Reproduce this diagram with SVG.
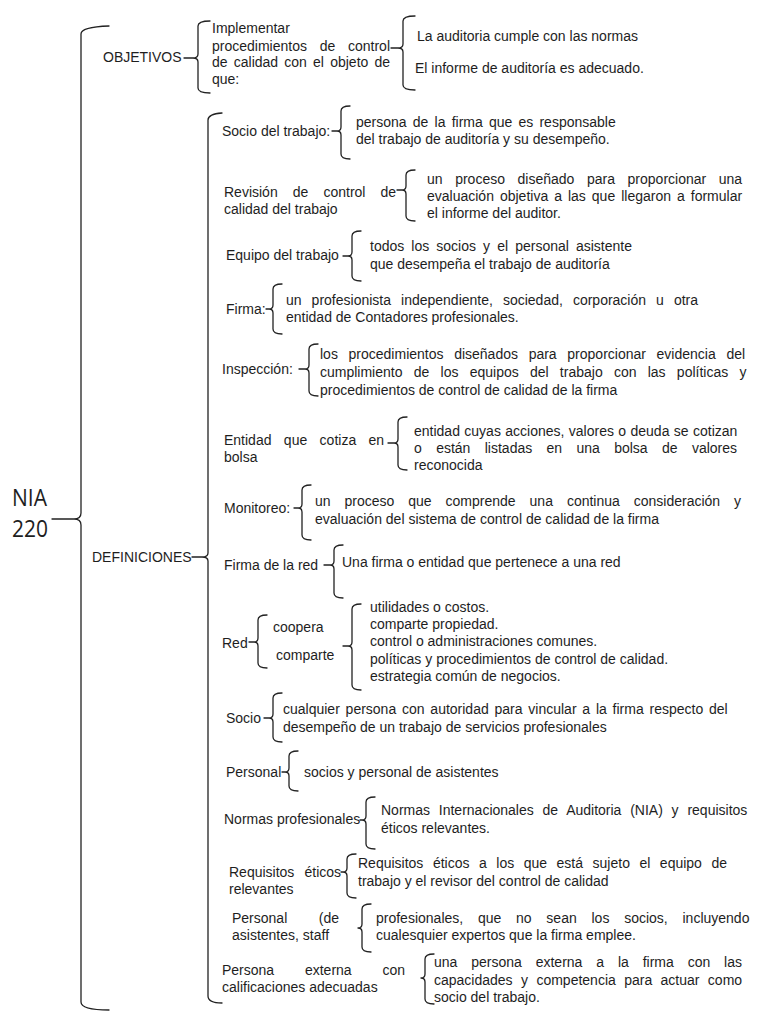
<svg xmlns="http://www.w3.org/2000/svg" width="768" height="1024" viewBox="0 0 768 1024">
<style>
.t{font-family:"Liberation Sans",Arial,sans-serif;font-size:14px;fill:#1e1e1e}
.big{font-family:"Open Sans","Noto Sans",sans-serif;font-size:24px;fill:#1e1e1e}
.b{fill:none;stroke:#222;stroke-width:1.3;stroke-linecap:round;stroke-linejoin:round}
</style>
<rect width="768" height="1024" fill="#fff"/>
<g id="connectors">
<path class="b" d="M109 26 Q81 27 81 34 L81 513 Q81 519 74 519 L52 519 M74 519 Q81 519 81 525 L81 1002 Q81 1010 109 1010"/>
<path class="b" d="M210 21 Q198 21 198 26 L198 54 Q198 58 193 58 L184 58 M193 58 Q198 58 198 62 L198 88 Q198 93 210 93"/>
<path class="b" d="M415 16 Q403 16 403 21 L403 44 Q403 48 398 48 L391 48 M398 48 Q403 48 403 52 L403 85 Q403 90 415 90"/>
<path class="b" d="M222 113 Q208 114 208 120 L208 553 Q208 557 202 557 L192 557 M202 557 Q208 557 208 561 L208 996 Q208 1003 222 1003"/>
<path class="b" d="M350 106 Q341 106 341 111 L341 127 Q341 131 337 131 L332 131 M337 131 Q341 131 341 135 L341 154 Q341 159 350 159"/>
<path class="b" d="M415 170 Q406 170 406 175 L406 186 Q406 190 402 190 L397 190 M402 190 Q406 190 406 194 L406 216 Q406 221 415 221"/>
<path class="b" d="M361 231 Q352 231 352 236 L352 252 Q352 256 348 256 L343 256 M348 256 Q352 256 352 260 L352 276 Q352 281 361 281"/>
<path class="b" d="M282 284 Q273 284 273 289 L273 305 Q273 309 269 309 L266 309 M269 309 Q273 309 273 313 L273 329 Q273 334 282 334"/>
<path class="b" d="M318 344 Q309 344 309 349 L309 365 Q309 369 305 369 L299 369 M305 369 Q309 369 309 373 L309 391 Q309 396 318 396"/>
<path class="b" d="M407 417 Q398 417 398 422 L398 439 Q398 443 394 443 L388 443 M394 443 Q398 443 398 447 L398 465 Q398 470 407 470"/>
<path class="b" d="M311 485 Q302 485 302 490 L302 504 Q302 508 298 508 L294 508 M298 508 Q302 508 302 512 L302 535 Q302 540 311 540"/>
<path class="b" d="M343 545 Q334 545 334 550 L334 561 Q334 565 330 565 L324 565 M330 565 Q334 565 334 569 L334 593 Q334 598 343 598"/>
<path class="b" d="M267 615 Q258 615 258 620 L258 638 Q258 642 254 642 L249 642 M254 642 Q258 642 258 646 L258 663 Q258 668 267 668"/>
<path class="b" d="M361 604 Q352 604 352 609 L352 642 Q352 646 348 646 L343 646 M348 646 Q352 646 352 650 L352 685 Q352 690 361 690"/>
<path class="b" d="M282 693 Q273 693 273 698 L273 714 Q273 718 269 718 L264 718 M269 718 Q273 718 273 722 L273 737 Q273 742 282 742"/>
<path class="b" d="M298 751 Q289 751 289 756 L289 768 Q289 772 285 772 L282 772 M285 772 Q289 772 289 776 L289 786 Q289 791 298 791"/>
<path class="b" d="M375 797 Q366 797 366 802 L366 816 Q366 820 362 820 L360 820 M362 820 Q366 820 366 824 L366 844 Q366 849 375 849"/>
<path class="b" d="M356 854 Q347 854 347 859 L347 868 Q347 872 343 872 L341 872 M343 872 Q347 872 347 876 L347 893 Q347 898 356 898"/>
<path class="b" d="M371 904 Q362 904 362 909 L362 924 Q362 928 358 928 M358 928 Q362 928 362 932 L362 947 Q362 952 371 952"/>
<path class="b" d="M434 954 Q425 954 425 959 L425 974 Q425 978 421 978 M421 978 Q425 978 425 982 L425 999 Q425 1004 434 1004"/>
</g>
<g id="nia220">
<text class="big" x="12" y="506" textLength="35" lengthAdjust="spacingAndGlyphs">NIA</text>
<text class="big" x="12" y="537" textLength="36" lengthAdjust="spacingAndGlyphs">220</text>
</g>
<g id="objetivos"><text class="t" x="103" y="62">OBJETIVOS</text></g>
<g id="objetivo-implementar">
<text class="t" x="212" y="33">Implementar</text>
<text class="t" x="212" y="51" word-spacing="8.85">procedimientos de control</text>
<text class="t" x="212" y="67" word-spacing="2.3">de calidad con el objeto de</text>
<text class="t" x="212" y="84">que:</text>
</g>
<g id="objetivo-normas"><text class="t" x="417" y="41">La auditoria cumple con las normas</text></g>
<g id="objetivo-informe"><text class="t" x="415" y="73">El informe de auditoría es adecuado.</text></g>
<g id="definiciones"><text class="t" x="92" y="562">DEFINICIONES</text></g>

<g id="socio-trabajo">
<text class="t" x="222" y="136">Socio del trabajo:</text>
<text class="t" x="356" y="127" word-spacing="2.3">persona de la firma que es responsable</text>
<text class="t" x="356" y="144">del trabajo de auditoría y su desempeño.</text>
</g>
<g id="revision">
<text class="t" x="224" y="197" word-spacing="11.2">Revisión de control de</text>
<text class="t" x="224" y="214">calidad del trabajo</text>
<text class="t" x="427" y="184" word-spacing="8.7">un proceso diseñado para proporcionar una</text>
<text class="t" x="427" y="201" word-spacing="2.1">evaluación objetiva a las que llegaron a formular</text>
<text class="t" x="427" y="218">el informe del auditor.</text>
</g>
<g id="equipo">
<text class="t" x="226" y="260">Equipo del trabajo</text>
<text class="t" x="370" y="251" word-spacing="3.2">todos los socios y el personal asistente</text>
<text class="t" x="370" y="269">que desempeña el trabajo de auditoría</text>
</g>
<g id="firma">
<text class="t" x="226" y="314">Firma:</text>
<text class="t" x="286" y="305" word-spacing="6.15">un profesionista independiente, sociedad, corporación u otra</text>
<text class="t" x="286" y="322">entidad de Contadores profesionales.</text>
</g>
<g id="inspeccion">
<text class="t" x="222" y="374">Inspección:</text>
<text class="t" x="320" y="359" word-spacing="6.77">los procedimientos diseñados para proporcionar evidencia del</text>
<text class="t" x="320" y="377" word-spacing="7.35">cumplimiento de los equipos del trabajo con las políticas y</text>
<text class="t" x="320" y="395">procedimientos de control de calidad de la firma</text>
</g>
<g id="entidad">
<text class="t" x="224" y="445" word-spacing="8.5">Entidad que cotiza en</text>
<text class="t" x="224" y="462">bolsa</text>
<text class="t" x="414" y="436" word-spacing="0.5">entidad cuyas acciones, valores o deuda se cotizan</text>
<text class="t" x="414" y="453" word-spacing="10.46">o están listadas en una bolsa de valores</text>
<text class="t" x="414" y="470">reconocida</text>
</g>
<g id="monitoreo">
<text class="t" x="224" y="513">Monitoreo:</text>
<text class="t" x="315" y="506" word-spacing="10.06">un proceso que comprende una continua consideración y</text>
<text class="t" x="315" y="524">evaluación del sistema de control de calidad de la firma</text>
</g>
<g id="firma-red">
<text class="t" x="224" y="570">Firma de la red</text>
<text class="t" x="342" y="567">Una firma o entidad que pertenece a una red</text>
</g>
<g id="red">
<text class="t" x="222" y="648">Red</text>
<text class="t" x="273" y="632">coopera</text>
<text class="t" x="276" y="660">comparte</text>
<text class="t" x="370" y="612">utilidades o costos.</text>
<text class="t" x="370" y="629">comparte propiedad.</text>
<text class="t" x="370" y="646">control o administraciones comunes.</text>
<text class="t" x="370" y="664">políticas y procedimientos de control de calidad.</text>
<text class="t" x="370" y="681">estrategia común de negocios.</text>
</g>
<g id="socio">
<text class="t" x="226" y="723">Socio</text>
<text class="t" x="283" y="714" word-spacing="1.9">cualquier persona con autoridad para vincular a la firma respecto del</text>
<text class="t" x="283" y="732">desempeño de un trabajo de servicios profesionales</text>
</g>
<g id="personal">
<text class="t" x="226" y="777">Personal</text>
<text class="t" x="304" y="777">socios y personal de asistentes</text>
</g>
<g id="normas">
<text class="t" x="224" y="824">Normas profesionales</text>
<text class="t" x="381" y="815" word-spacing="4.9">Normas Internacionales de Auditoria (NIA) y requisitos</text>
<text class="t" x="381" y="833">éticos relevantes.</text>
</g>
<g id="requisitos">
<text class="t" x="229" y="877" word-spacing="6.2">Requisitos éticos</text>
<text class="t" x="229" y="894">relevantes</text>
<text class="t" x="358" y="868" word-spacing="5.63">Requisitos éticos a los que está sujeto el equipo de</text>
<text class="t" x="358" y="886">trabajo y el revisor del control de calidad</text>
</g>
<g id="personal-staff">
<text class="t" x="232" y="923" word-spacing="27.6">Personal (de</text>
<text class="t" x="232" y="940">asistentes, staff</text>
<text class="t" x="376" y="923" word-spacing="10.87">profesionales, que no sean los socios, incluyendo</text>
<text class="t" x="376" y="940">cualesquier expertos que la firma emplee.</text>
</g>
<g id="persona-externa">
<text class="t" x="222" y="975" word-spacing="26.9">Persona externa con</text>
<text class="t" x="222" y="992">calificaciones adecuadas</text>
<text class="t" x="434" y="967" word-spacing="9.98">una persona externa a la firma con las</text>
<text class="t" x="434" y="985" word-spacing="4.5">capacidades y competencia para actuar como</text>
<text class="t" x="434" y="1002">socio del trabajo.</text>
</g>
</svg>
